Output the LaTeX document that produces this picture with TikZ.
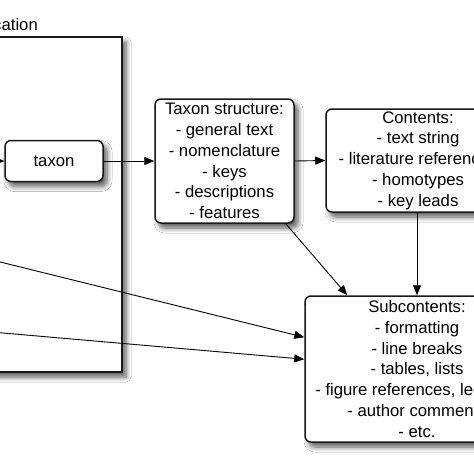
\documentclass[tikz,border=0pt]{standalone}
\usepackage{fontspec}
\setmainfont{Liberation Sans}
\usetikzlibrary{arrows.meta,shadows.blur,calc}
\tikzset{
  box/.style={draw=black!90, line width=1.5pt, rounded corners=6pt, fill=white,
    align=center, inner sep=0pt,
    font=\fontsize{16.7}{20.8}\selectfont,
    blur shadow={shadow xshift=4pt, shadow yshift=-5pt, shadow blur steps=8, shadow opacity=65, shadow blur radius=5pt}},
  frame/.style={draw=black!90, line width=1.6pt, fill=white,
    blur shadow={shadow xshift=4pt, shadow yshift=-5pt, shadow blur steps=8, shadow opacity=65, shadow blur radius=5pt}},
  conn/.style={draw=black, line width=0.9pt, -{Triangle[length=10pt,width=8pt]}},
  lbl/.style={font=\fontsize{16.7}{20.8}\selectfont, inner sep=0pt}
}
\begin{document}
\begin{tikzpicture}[x=1pt,y=-1pt]
\useasboundingbox (0,0) rectangle (474,474);
\clip (0,0) rectangle (474,474);
\fill[white] (0,0) rectangle (474,474);
% outer container
\node[frame, minimum width=180pt, minimum height=335pt, inner sep=0pt] (pub) at (32,204.5) {};
\node[lbl, anchor=base east] (publbl) at (38,30) {cation};
% nodes
\node[box, minimum width=98pt, minimum height=41pt] (taxon) at (54,161) {taxon};
\node[box, minimum width=139pt, minimum height=124pt] (ts) at (224.5,161)
  {Taxon structure:\\- general text\\- nomenclature\\- keys\\- descriptions\\- features};
\node[box, minimum width=184pt, minimum height=103pt] (cont) at (418,160.5)
  {Contents:\\- text string\\- literature references\\- homotypes\\- key leads};
\node[box, minimum width=224pt, minimum height=146pt] (sub) at (417,369)
  {Subcontents:\\- formatting\\- line breaks\\- tables, lists\\- figure references, legends\\- author comments\\- etc.};
% free ends
\coordinate (in1) at (-20,161);
\coordinate (in2) at (-20,257);
\coordinate (in3) at (-20,331);
% connectors
\draw[conn] (in1) -- (taxon.west);
\draw[conn] (taxon.east) -- (ts.west);
\draw[conn] (ts.east) -- (cont.west);
\draw[conn] (cont.south -| 417,0) -- (417,0 |- sub.north);
\draw[conn] ($(ts.south east)+(-9,0)$) -- ($(sub.north west)+(43,0)$);
\draw[conn] (in2) -- ($(sub.north west)+(0,42)$);
\draw[conn] (in3) -- ($(sub.north west)+(0,64)$);
\end{tikzpicture}
\end{document}
